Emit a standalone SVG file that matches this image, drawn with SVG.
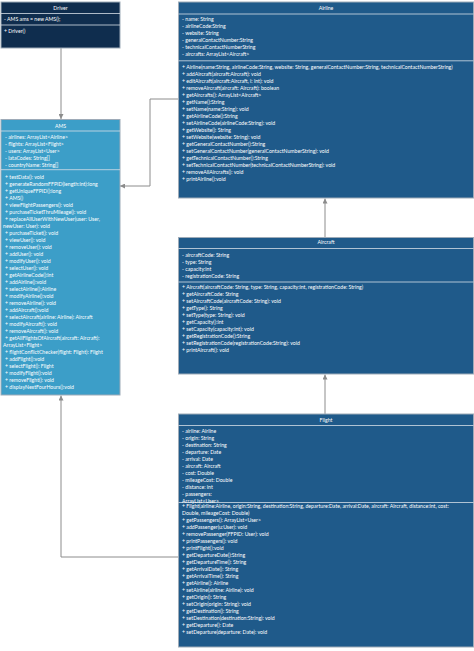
<svg xmlns="http://www.w3.org/2000/svg" width="474" height="651" viewBox="0 0 474 651">
<defs>
<style>
.t{font-family:Lato,"Noto Sans",sans-serif;font-size:5.2px;fill:#ffffff}
.h{font-family:Lato,"Noto Sans",sans-serif;font-size:5.2px;fill:#ffffff;text-anchor:middle}
.box{stroke:#9eabb8;stroke-width:1}
.navy{fill:#0f2d4e}
.cyan{fill:#3c9ec8}
.blue{fill:#1f5a8a}
.div{stroke:#d5dee7;stroke-width:0.8}
.con{fill:none;stroke:#8c8c8c;stroke-width:1}
</style>
<marker id="arr" viewBox="0 0 10 10" refX="10" refY="5" markerWidth="5" markerHeight="5" markerUnits="userSpaceOnUse" orient="auto">
<path d="M0,0 L10,5 L0,10 z" fill="#8c8c8c"/>
</marker>
</defs>
<rect width="474" height="651" fill="#ffffff"/>

<g id="connectors">
<path class="con" d="M61,48 L61,119" marker-end="url(#arr)"/>
<path class="con" d="M178,99 L150,99 L150,186 L120,186" marker-end="url(#arr)"/>
<path class="con" d="M325,237 L325,198.5" marker-end="url(#arr)"/>
<path class="con" d="M325,414 L325,374.5" marker-end="url(#arr)"/>
<path class="con" d="M178,557 L61,557 L61,395.5" marker-end="url(#arr)"/>
</g>

<g id="driver">
<rect class="box navy" x="1" y="2" width="119" height="46"/>
<line class="div" x1="1" y1="13.5" x2="120" y2="13.5"/>
<line class="div" x1="1" y1="25" x2="120" y2="25"/>
<text class="h" x="60.5" y="9.5">Driver</text>
<text class="t" x="4" y="21">- AMS ams = new AMS();</text>
<text class="t" x="4" y="33">+ Driver()</text>
</g>

<g id="ams">
<rect class="box cyan" x="1" y="119.5" width="119" height="275.5"/>
<line class="div" x1="1" y1="131" x2="120" y2="131"/>
<line class="div" x1="1" y1="169.7" x2="120" y2="169.7"/>
<text class="h" x="60.5" y="127.5">AMS</text>
<text class="t" x="5" y="139.4">- airlines: ArrayList&lt;Airline&gt;</text>
<text class="t" x="5" y="146.4">- flights: ArrayList&lt;Flight&gt;</text>
<text class="t" x="5" y="153.4">- users: ArrayList&lt;User&gt;</text>
<text class="t" x="5" y="160.4">- iataCodes: String[]</text>
<text class="t" x="5" y="167.4">- countryName: String[]</text>
<text class="t" x="5" y="178.6">+ testData(): void</text>
<text class="t" x="5" y="185.6">+ generateRandomFFPID(length:int):long</text>
<text class="t" x="5" y="192.6">+ getUniqueFFPID():long</text>
<text class="t" x="5" y="199.6">+ AMS()</text>
<text class="t" x="5" y="206.6">+ viewFlightPassengers(): void</text>
<text class="t" x="5" y="213.6">+ purchaseTicketThruMileage(): void</text>
<text class="t" x="5" y="220.6">+ replaceAllUserWithNewUser(user: User,</text>
<text class="t" x="3" y="227.6">newUser: User): void</text>
<text class="t" x="5" y="234.6">+ purchaseTicket(): void</text>
<text class="t" x="5" y="241.6">+ viewUser(): void</text>
<text class="t" x="5" y="248.6">+ removeUser(): void</text>
<text class="t" x="5" y="255.6">+ addUser(): void</text>
<text class="t" x="5" y="262.6">+ modifyUser(): void</text>
<text class="t" x="5" y="269.6">+ selectUser(): void</text>
<text class="t" x="5" y="276.6">+ getAirlineCode():int</text>
<text class="t" x="5" y="283.6">+ addAirline():void</text>
<text class="t" x="5" y="290.6">+ selectAirline():Airline</text>
<text class="t" x="5" y="297.6">+ modifyAirline():void</text>
<text class="t" x="5" y="304.6">+ removeAirline(): void</text>
<text class="t" x="5" y="311.6">+ addAircraft():void</text>
<text class="t" x="5" y="318.6">+ selectAircraft(airline: Airline): Aircraft</text>
<text class="t" x="5" y="325.6">+ modifyAircraft(): void</text>
<text class="t" x="5" y="332.6">+ removeAircraft(): void</text>
<text class="t" x="5" y="339.6">+ getAllFlightsOfAircraft(aircraft: Aircraft):</text>
<text class="t" x="3" y="346.6">ArrayList&lt;Flight&gt;</text>
<text class="t" x="5" y="353.6">+ flightConflictChecker(flight: Flight): Flight</text>
<text class="t" x="5" y="360.6">+ addFlight():void</text>
<text class="t" x="5" y="367.6">+ selectFlight(): Flight</text>
<text class="t" x="5" y="374.6">+ modifyFlight():void</text>
<text class="t" x="5" y="381.6">+ removeFlight(): void</text>
<text class="t" x="5" y="388.6">+ displayNextFourHours():void</text>
</g>

<g id="airline">
<rect class="box blue" x="178.5" y="2" width="295" height="196"/>
<line class="div" x1="178.5" y1="14" x2="473.5" y2="14"/>
<line class="div" x1="178.5" y1="60.8" x2="473.5" y2="60.8"/>
<text class="h" x="326" y="10">Airline</text>
<text class="t" x="182" y="21.4">- name: String</text>
<text class="t" x="182" y="28.4">- airlineCode:String</text>
<text class="t" x="182" y="35.4">- website: String</text>
<text class="t" x="182" y="42.4">- generalContactNumber:String</text>
<text class="t" x="182" y="49.4">- technicalContactNumberString</text>
<text class="t" x="182" y="56.4">- aircrafts: ArrayList&lt;Aircraft&gt;</text>
<text class="t" x="182" y="68.8">+ Airline(name:String, airlineCode:String, website: String, generalContactNumber:String, technicalContactNumberString)</text>
<text class="t" x="182" y="75.8">+ addAircraft(aircraft:Aircraft): void</text>
<text class="t" x="182" y="82.8">+ editAircraft(aircraft:Aircraft, i: int): void</text>
<text class="t" x="182" y="89.8">+ removeAircraft(aircraft: Aircraft): boolean</text>
<text class="t" x="182" y="96.8">+ getAircrafts(): ArrayList&lt;Aircraft&gt;</text>
<text class="t" x="182" y="103.8">+ getName():String</text>
<text class="t" x="182" y="110.8">+ setName(name:String): void</text>
<text class="t" x="182" y="117.8">+ getAirlineCode():String</text>
<text class="t" x="182" y="124.8">+ setAirlineCode(airlineCode:String): void</text>
<text class="t" x="182" y="131.8">+ getWebsite(): String</text>
<text class="t" x="182" y="138.8">+ setWebsite(website: String): void</text>
<text class="t" x="182" y="145.8">+ getGeneralContactNumber():String</text>
<text class="t" x="182" y="152.8">+ setGeneralContactNumber(generalContactNumberString): void</text>
<text class="t" x="182" y="159.8">+ getTechnicalContactNumber():String</text>
<text class="t" x="182" y="166.8">+ setTechnicalContactNumber(technicalContactNumberString): void</text>
<text class="t" x="182" y="173.8">+ removeAllAircrafts(): void</text>
<text class="t" x="182" y="180.8">+ printAirline():void</text>
</g>

<g id="aircraft">
<rect class="box blue" x="178.5" y="237.5" width="295" height="136.5"/>
<line class="div" x1="178.5" y1="248.5" x2="473.5" y2="248.5"/>
<line class="div" x1="178.5" y1="282" x2="473.5" y2="282"/>
<text class="h" x="326" y="244">Aircraft</text>
<text class="t" x="182" y="257">- aircraftCode: String</text>
<text class="t" x="182" y="264">- type: String</text>
<text class="t" x="182" y="271">- capacity:int</text>
<text class="t" x="182" y="278">- registrationCode: String</text>
<text class="t" x="182" y="289.4">+ Aircraft(aircraftCode: String, type: String, capacity:int, registrationCode: String)</text>
<text class="t" x="182" y="296.4">+ getAircraftCode: String</text>
<text class="t" x="182" y="303.4">+ setAircraftCode(aircraftCode: String): void</text>
<text class="t" x="182" y="310.4">+ getType(): String</text>
<text class="t" x="182" y="317.4">+ setType(type: String): void</text>
<text class="t" x="182" y="324.4">+ getCapacity():int</text>
<text class="t" x="182" y="331.4">+ setCapacity(capacity:int): void</text>
<text class="t" x="182" y="338.4">+ getRegistrationCode():String</text>
<text class="t" x="182" y="345.4">+ setRegistrationCode(registrationCode:String): void</text>
<text class="t" x="182" y="352.4">+ printAircraft(): void</text>
</g>

<g id="flight">
<rect class="box blue" x="178.5" y="414" width="295" height="233"/>
<line class="div" x1="178.5" y1="425.5" x2="473.5" y2="425.5"/>
<line class="div" x1="178.5" y1="502.5" x2="473.5" y2="502.5"/>
<text class="h" x="326" y="421.8">Flight</text>
<text class="t" x="182" y="432.9">- airline: Airline</text>
<text class="t" x="182" y="439.9">- origin: String</text>
<text class="t" x="182" y="446.9">- destination: String</text>
<text class="t" x="182" y="453.9">- departure: Date</text>
<text class="t" x="182" y="460.9">- arrival: Date</text>
<text class="t" x="182" y="467.9">- aircraft: Aircraft</text>
<text class="t" x="182" y="474.9">- cost: Double</text>
<text class="t" x="182" y="481.9">- mileageCost: Double</text>
<text class="t" x="182" y="488.9">- distance: int</text>
<text class="t" x="182" y="495.9">- passengers:</text>
<text class="t" x="182" y="502.9">ArrayList&lt;User&gt;</text>
<text class="t" x="182" y="507.9">+ Flight(airline:Airline, origin:String, destination:String, departure:Date, arrival:Date, aircraft: Aircraft, distance:int, cost:</text>
<text class="t" x="182" y="514.9">Double, mileageCost: Double)</text>
<text class="t" x="182" y="521.9">+ getPassengers(): ArrayList&lt;User&gt;</text>
<text class="t" x="182" y="528.9">+ addPassenger(u:User): void</text>
<text class="t" x="182" y="535.9">+ removePassenger(FFPID: User): void</text>
<text class="t" x="182" y="542.9">+ printPassengers(): void</text>
<text class="t" x="182" y="549.9">+ printFlight():void</text>
<text class="t" x="182" y="556.9">+ getDepartureDate():String</text>
<text class="t" x="182" y="563.9">+ getDepartureTime(): String</text>
<text class="t" x="182" y="570.9">+ getArrivalDate(): String</text>
<text class="t" x="182" y="577.9">+ getArrivalTime(): String</text>
<text class="t" x="182" y="584.9">+ getAirline(): Airline</text>
<text class="t" x="182" y="591.9">+ setAirline(airline: Airline): void</text>
<text class="t" x="182" y="598.9">+ getOrigin(): String</text>
<text class="t" x="182" y="605.9">+ setOrigin(origin: String): void</text>
<text class="t" x="182" y="612.9">+ getDestination(): String</text>
<text class="t" x="182" y="619.9">+ setDestination(destination:String): void</text>
<text class="t" x="182" y="626.9">+ getDeparture(): Date</text>
<text class="t" x="182" y="633.9">+ setDeparture(departure: Date): void</text>
</g>
</svg>
